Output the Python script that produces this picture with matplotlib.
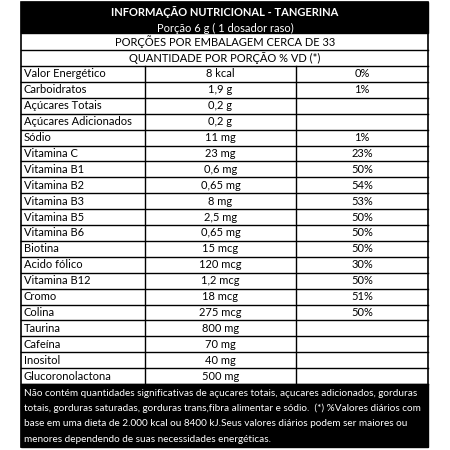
import matplotlib.pyplot as plt
from matplotlib.patches import Rectangle

plt.rcParams['font.family'] = ['Lato', 'DejaVu Sans']

title = 'INFORMAÇÃO NUTRICIONAL - TANGERINA'
portion = 'Porção 6 g ( 1 dosador raso)'
servings = 'PORÇÕES POR EMBALAGEM CERCA DE 33'
qty_header = 'QUANTIDADE POR PORÇÃO % VD (*)'

nutrients = ['Valor Energético', 'Carboidratos', 'Açúcares Totais', 'Açúcares Adicionados',
             'Sódio', 'Vitamina C', 'Vitamina B1', 'Vitamina B2', 'Vitamina B3', 'Vitamina B5',
             'Vitamina B6', 'Biotina', 'Acido fólico', 'Vitamina B12', 'Cromo', 'Colina',
             'Taurina', 'Cafeína', 'Inositol', 'Glucoronolactona']
amounts = ['8 kcal', '1,9 g', '0,2 g', '0,2 g', '11 mg', '23 mg', '0,6 mg', '0,65 mg', '8 mg',
           '2,5 mg', '0,65 mg', '15 mcg', '120 mcg', '1,2 mcg', '18 mcg', '275 mcg',
           '800 mg', '70 mg', '40 mg', '500 mg']
vd = ['0%', '1%', '', '', '1%', '23%', '50%', '54%', '53%', '50%', '50%', '50%', '30%',
      '50%', '51%', '50%', '', '', '', '']
footer = ['Não contém quantidades significativas de açucares totais, açucares adicionados, gorduras',
          'totais, gorduras saturadas, gorduras trans,fibra alimentar e sódio.  (*) %Valores diários com',
          'base em uma dieta de 2.000 kcal ou 8400 kJ.Seus valores diários podem ser maiores ou',
          'menores dependendo de suas necessidades energéticas.']

fig = plt.figure(figsize=(4.5, 4.5), dpi=100)
ax = fig.add_axes([0, 0, 1, 1])
ax.set_xlim(0, 450)
ax.set_ylim(450, 0)
ax.axis('off')

x0, x1, x2, x3 = 21, 145, 296, 428
top = 2
hdr_bot = 33
row_h = 15.9
rows_top = 66
rows_bot = rows_top + row_h * len(nutrients)
foot_bot = 447
fs = 8

# cabeçalho preto
ax.add_patch(Rectangle((x0, top), x3 - x0, hdr_bot - top, color='black'))
ax.text(225, 12.5, title, color='white', fontsize=fs, fontweight='bold', ha='center', va='center')
ax.text(225, 28, portion, color='white', fontsize=fs, ha='center', va='center')

ax.text(225, 41.5, servings, fontsize=fs, ha='center', va='center')
ax.plot([x0, x3], [50, 50], color='black', lw=1)
ax.text(225, 58, qty_header, fontsize=fs, ha='center', va='center')
ax.plot([x0, x3], [rows_top, rows_top], color='black', lw=1)

for i, name in enumerate(nutrients):
    yc = rows_top + row_h * (i + 0.5)
    ax.text(x0 + 3, yc, name, fontsize=fs, ha='left', va='center')
    ax.text((x1 + x2) / 2, yc, amounts[i], fontsize=fs, ha='center', va='center')
    ax.text((x2 + x3) / 2, yc, vd[i], fontsize=fs, ha='center', va='center')
    yb = rows_top + row_h * (i + 1)
    ax.plot([x0, x3], [yb, yb], color='black', lw=1)

ax.plot([x1, x1], [rows_top, rows_bot], color='black', lw=1)
ax.plot([x2, x2], [rows_top, rows_bot], color='black', lw=1)

# rodapé preto
ax.add_patch(Rectangle((x0, rows_bot), x3 - x0, foot_bot - rows_bot, color='black'))
renderer = fig.canvas.get_renderer()
foot_texts = []
for i, line in enumerate(footer):
    t = ax.text(x0 + 3, rows_bot + 9 + i * 15.5, line, color='white', fontsize=fs, ha='left', va='center')
    foot_texts.append(t)
# encolhe a fonte do rodapé para caber na largura
widest = max(t.get_window_extent(renderer).width for t in foot_texts)
ffs = fs * min(1.0, (x3 - x0 - 8) / widest)
for t in foot_texts:
    t.set_fontsize(ffs)

# borda externa
ax.add_patch(Rectangle((x0, top), x3 - x0, foot_bot - top, fill=False, ec='black', lw=1.2))

fig.savefig('out.png', dpi=100, facecolor='white')
